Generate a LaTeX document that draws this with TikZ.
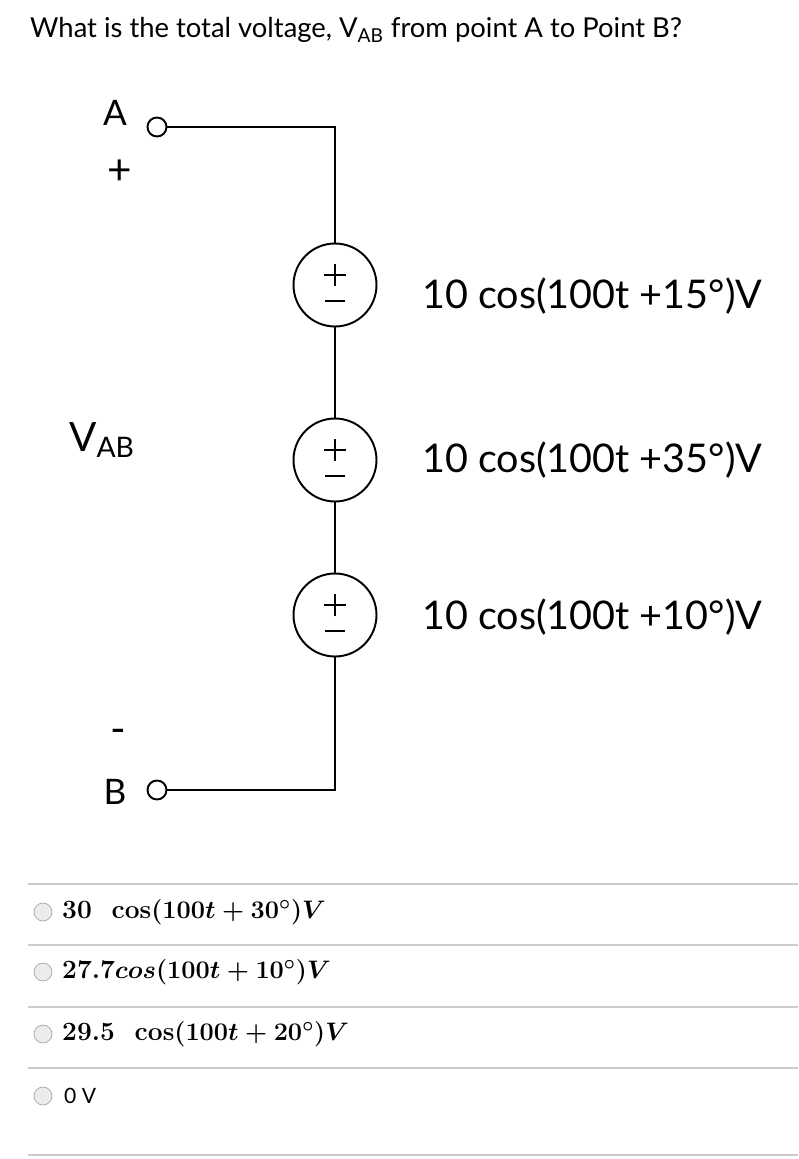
\documentclass[tikz,border=0pt]{standalone}
\usepackage{fontspec}
\setmainfont{Lato}
\newfontfamily\mathlike{Latin Modern Roman}
\newcommand{\mcos}{\textnormal{\mathlike\bfseries cos}}
\begin{document}
\begin{tikzpicture}[x=0.02cm,y=-0.02cm,
	terminal/.style={circle,draw,line width=1.1pt,minimum size=0.38cm,inner sep=0pt},
	source/.style={circle,draw,line width=1.1pt,minimum size=1.66cm,inner sep=0pt},
	vlabel/.style={anchor=west,font=\fontsize{22.5}{26}\selectfont},
	answer/.style={anchor=west,font=\fontsize{15}{18}\selectfont\boldmath},
	radio/.style={circle,draw=gray!70,fill=gray!15,minimum size=0.36cm,inner sep=0pt},
	sep/.style={gray!40,thick}]

	\useasboundingbox (0,0) rectangle (798,1159);

	\node[anchor=west,font=\fontsize{15.6}{19}\selectfont] (title) at (24,30)
		{What is the total voltage, V\textsubscript{AB} from point A to Point B?};

	% terminals
	\node[terminal] (A) at (157,127) {};
	\node[terminal] (B) at (157,790) {};
	\node[font=\fontsize{20}{24}\selectfont] (Alabel) at (115,113) {A};
	\node[font=\fontsize{20}{24}\selectfont] (Blabel) at (115,792) {B};
	\node[font=\fontsize{24}{28}\selectfont] (plus) at (120,172) {+};
	\node[font=\fontsize{24}{28}\selectfont] (minus) at (118,736) {-};
	\node[font=\fontsize{23}{26}\selectfont] (VAB) at (102,440) {V\textsubscript{AB}};

	% sources
	\node[source] (s1) at (335,285) {};
	\node[source] (s2) at (335,460) {};
	\node[source] (s3) at (335,615) {};
	\foreach \s in {s1,s2,s3} {
		\draw[line width=1.1pt] ([yshift=0.2cm]\s.center) ++(-0.22cm,0) -- ++(0.44cm,0);
		\draw[line width=1.1pt] ([yshift=0.2cm]\s.center) ++(0,-0.22cm) -- ++(0,0.44cm);
		\draw[line width=1.1pt] ([yshift=-0.32cm]\s.center) ++(-0.2cm,0) -- ++(0.4cm,0);
	}
	\node[vlabel] (v1) at (416,296) {10 cos(100t +15°)V};
	\node[vlabel] (v2) at (416,460) {10 cos(100t +35°)V};
	\node[vlabel] (v3) at (416,617) {10 cos(100t +10°)V};

	% wires
	\coordinate (top) at (335,127);
	\coordinate (bot) at (335,790);
	\draw[line width=1.1pt] (A) -- (top) -- (s1) -- (s2) -- (s3) -- (bot) -- (B);

	% answers
	\foreach \y in {884,945,1007,1068,1155}
		\draw[sep] (28,\y) -- (798,\y);
	\node[radio] (r1) at (43,912) {};
	\node[radio] (r2) at (43,972) {};
	\node[radio] (r3) at (43,1034) {};
	\node[radio] (r4) at (43,1096) {};
	\node[answer] (a1) at (56,912) {\mathlike\bfseries 30 \ $\mcos(100t+30^\circ)V$};
	\node[answer] (a2) at (56,972) {\mathlike\bfseries 27.7$cos(100t+10^\circ)V$};
	\node[answer] (a3) at (56,1034) {\mathlike\bfseries 29.5 \ $\mcos(100t+20^\circ)V$};
	\node[anchor=west,font=\fontsize{12}{14}\selectfont] (a4) at (58,1096) {0 V};
\end{tikzpicture}
\end{document}
